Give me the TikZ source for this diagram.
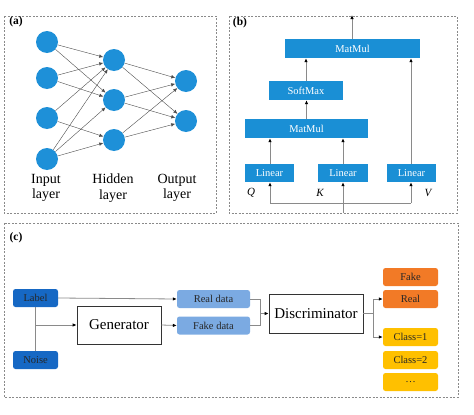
\documentclass[tikz,border=0pt]{standalone}
\usepackage{fontspec}
\setmainfont{Liberation Serif}
\usetikzlibrary{arrows.meta}
\definecolor{nnblue}{HTML}{1E90D8}
\definecolor{boxblue}{HTML}{1A8FD5}
\definecolor{darkblue}{HTML}{1668C4}
\definecolor{lightblue}{HTML}{7BAAE2}
\definecolor{orng}{HTML}{F27A26}
\definecolor{gold}{HTML}{FFC000}
\definecolor{lgray}{HTML}{8A8A8A}
\tikzset{
  panel/.style={draw=lgray, dash pattern=on 2pt off 1.5pt, line width=0.7pt},
  neuron/.style={circle, fill=nnblue, minimum size=22pt, inner sep=0pt},
  nnedge/.style={draw=black!70, line width=0.4pt, -{Latex[length=4pt,width=3.5pt]}},
  attbox/.style={fill=boxblue, text=white, font=\fontsize{10.5}{11}\selectfont, inner sep=0pt},
  conn/.style={draw=lgray, line width=0.8pt, -{Latex[length=4pt,width=3.5pt,fill=black,color=black]}},
  plain/.style={draw=lgray, line width=0.8pt},
  inbox/.style={fill=darkblue, rounded corners=2.5pt, minimum width=45pt, minimum height=18pt, inner sep=0pt, font=\fontsize{10.5}{11}\selectfont, text=black!85},
  databox/.style={fill=lightblue, rounded corners=2.5pt, minimum width=73pt, minimum height=18pt, inner sep=0pt, font=\fontsize{10.5}{11}\selectfont, text=black!85},
  outbox/.style={rounded corners=2.5pt, minimum width=55pt, minimum height=18pt, inner sep=0pt, font=\fontsize{10.5}{11}\selectfont, text=black!85},
  bigbox/.style={draw=black!80, line width=0.7pt, fill=white, inner sep=0pt, font=\fontsize{15}{16}\selectfont},
  tag/.style={font=\bfseries\fontsize{11.5}{12}\selectfont},
  qkv/.style={font=\itshape\fontsize{11}{12}\selectfont},
  layerlbl/.style={align=center, font=\fontsize{14}{15.5}\selectfont, inner sep=0pt}
}
\begin{document}
\begin{tikzpicture}[x=1pt,y=-1pt]
\useasboundingbox (0,0) rectangle (474,415);
% panels
\draw[panel] (4,16) rectangle (216,213);
\draw[panel] (229,16) rectangle (457,213);
\draw[panel] (4,223) rectangle (458,397);
\node[tag] (ta) at (16,22) {(a)};
\node[tag] (tb) at (240,23) {(b)};
\node[tag] (tc) at (16,238) {(c)};

% (a) ANN
\node[neuron] (i1) at (47,42) {};
\node[neuron] (i2) at (47,78) {};
\node[neuron] (i3) at (47,118) {};
\node[neuron] (i4) at (47,159) {};
\node[neuron] (h1) at (114,60) {};
\node[neuron] (h2) at (114,100) {};
\node[neuron] (h3) at (114,140) {};
\node[neuron] (o1) at (186,81) {};
\node[neuron] (o2) at (186,121) {};
\foreach \a/\b in {i1/h1,i1/h2,i2/h1,i2/h2,i3/h1,i3/h3,i4/h1,i4/h2,i4/h3,
                   h1/o1,h1/o2,h2/o1,h2/o2,h3/o1,h3/o2}
  \draw[nnedge] (\a) -- (\b);
\node[layerlbl] (li) at (46,188) {Input\\layer};
\node[layerlbl] (lh) at (113,188) {Hidden\\layer};
\node[layerlbl] (lo) at (177,188) {Output\\layer};

% (b) self-attention
\node[attbox, minimum width=135pt, minimum height=19pt] (mm2) at (352.5,48.5) {MatMul};
\node[attbox, minimum width=74pt, minimum height=19pt] (sm) at (306,90.5) {SoftMax};
\node[attbox, minimum width=123pt, minimum height=19pt] (mm1) at (306.5,128.5) {MatMul};
\node[attbox, minimum width=49pt, minimum height=18pt] (l1) at (269.5,173) {Linear};
\node[attbox, minimum width=50pt, minimum height=18pt] (l2) at (343,173) {Linear};
\node[attbox, minimum width=49pt, minimum height=18pt] (l3) at (411.5,173) {Linear};
\node[qkv] (q) at (251,193) {Q};
\node[qkv] (k) at (320,193) {K};
\node[qkv] (v) at (428,193) {V};
\coordinate (outtop) at (352,15);
\coordinate (inbot) at (343,213);
\coordinate (j1) at (270,203);
\coordinate (j2) at (343,203);
\coordinate (j3) at (411,203);
\draw[conn] (mm2.north -| outtop) -- (outtop);
\draw[conn] (sm.north) -- (sm.north |- mm2.south);
\draw[conn] (mm1.north) -- (mm1.north |- sm.south);
\draw[conn] (l1.north -| j1) -- (j1 |- mm1.south);
\draw[conn] (l2.north) -- (l2.north |- mm1.south);
\draw[conn] (l3.north -| j3) -- (j3 |- mm2.south);
\draw[plain] (inbot) -- (j2);
\draw[plain] (j1) -- (j3);
\draw[conn] (j1) -- (j1 |- l1.south);
\draw[conn] (j2) -- (l2.south);
\draw[conn] (j3) -- (j3 |- l3.south);

% (c) GAN
\node[inbox] (lab) at (35.5,298) {Label};
\node[inbox] (noi) at (35.5,360) {Noise};
\node[bigbox, minimum width=84pt, minimum height=38pt] (gen) at (119,325) {Generator};
\node[databox] (real) at (213.5,299) {Real data};
\node[databox] (fake) at (213.5,325.5) {Fake data};
\node[bigbox, minimum width=94pt, minimum height=39pt] (dis) at (316,313.5) {Discriminator};
\node[outbox, fill=orng] (ofake) at (410.5,277) {Fake};
\node[outbox, fill=orng] (oreal) at (410.5,299) {Real};
\node[outbox, fill=gold] (c1) at (410.5,337) {Class=1};
\node[outbox, fill=gold] (c2) at (410.5,360) {Class=2};
\node[outbox, fill=gold] (c3) at (410.5,382) {\dots};
\coordinate (gj) at (35.5,325);
\coordinate (dj) at (260,313.5);
\coordinate (oj) at (373,313.5);
\draw[conn] (lab.east) -- (real.west);
\draw[plain] (lab.south) -- (noi.north);
\draw[conn] (gj) -- (gen.west);
\draw[conn] (gen.east) -- (fake.west);
\draw[plain] (real.east) -| (dj);
\draw[plain] (fake.east) -| (dj);
\draw[conn] (dj) -- (dis.west);
\draw[plain] (dis.east) -- (oj);
\draw[conn] (oj) |- (oreal.west);
\draw[conn] (oj) |- (c1.west);
\end{tikzpicture}
\end{document}
